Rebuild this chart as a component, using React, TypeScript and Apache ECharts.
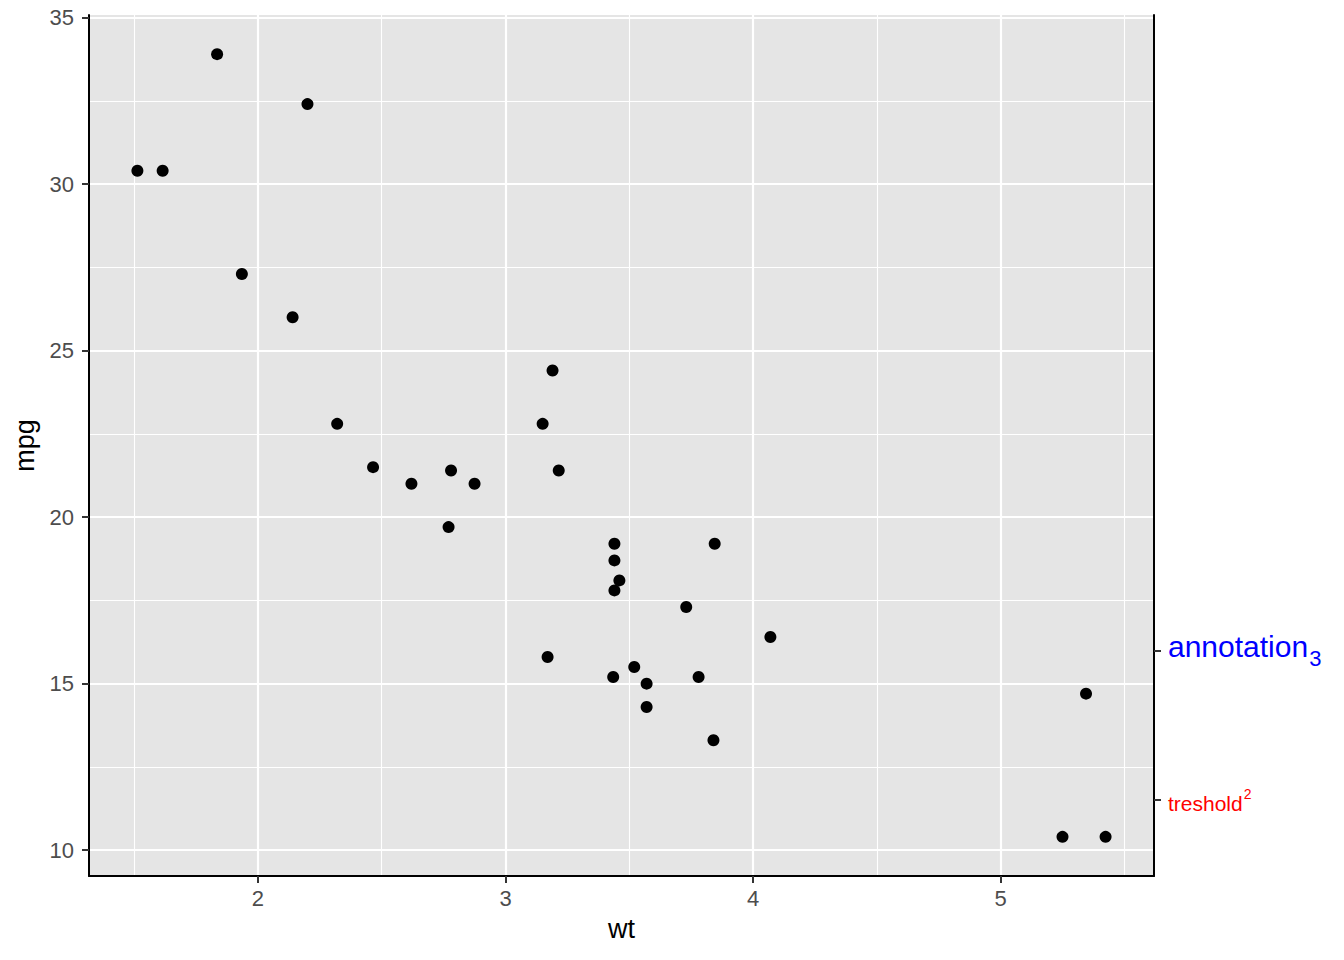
import React, { useEffect, useRef } from "react";
import * as echarts from "echarts";

// mtcars: weight (1000 lbs) and miles per gallon
const wt = [2.62, 2.875, 2.32, 3.215, 3.44, 3.46, 3.57, 3.19, 3.15, 3.44, 3.44, 4.07, 3.73, 3.78, 5.25, 5.424, 5.345, 2.2, 1.615, 1.835, 2.465, 3.52, 3.435, 3.84, 3.845, 1.935, 2.14, 1.513, 3.17, 2.77, 3.57, 2.78];
const mpg = [21.0, 21.0, 22.8, 21.4, 18.7, 18.1, 14.3, 24.4, 22.8, 19.2, 17.8, 16.4, 17.3, 15.2, 10.4, 10.4, 14.7, 32.4, 30.4, 33.9, 21.5, 15.5, 15.2, 13.3, 19.2, 27.3, 26.0, 30.4, 15.8, 19.7, 15.0, 21.4];

const xTicks = [2, 3, 4, 5];
const xMinor = [1.5, 2.5, 3.5, 4.5, 5.5];
const yTicks = [10, 15, 20, 25, 30, 35];
const yMinor = [12.5, 17.5, 22.5, 27.5, 32.5];
const rightTicks = [16, 11.5];
const rightLabels = ["annotation", "treshold"];

const xRange = [1.3175, 5.6196];
const yRange = [9.225, 35.075];

const FONT = "'Liberation Sans', Arial, Helvetica, sans-serif";

export default function App() {
  const ref = useRef<HTMLDivElement>(null);
  useEffect(() => {
    if (!ref.current) return;
    const chart = echarts.init(ref.current, undefined, { renderer: "svg" });
    const major = { color: "#FFFFFF", width: 2.2, type: "solid" as const };
    const minor = { color: "#FFFFFF", width: 1.1, type: "solid" as const };
    const markData: any[] = [
      ...xMinor.map((v) => ({ xAxis: v, lineStyle: minor })),
      ...yMinor.map((v) => ({ yAxis: v, lineStyle: minor })),
      ...xTicks.map((v) => ({ xAxis: v, lineStyle: major })),
      ...yTicks.map((v) => ({ yAxis: v, lineStyle: major })),
    ];
    const tickStyle = { show: true, length: 7, lineStyle: { color: "#333333", width: 2 } };
    chart.setOption({
      animation: false,
      textStyle: { fontFamily: FONT },
      grid: {
        left: 89,
        right: 190,
        top: 15,
        bottom: 84,
        show: true,
        backgroundColor: "#E5E5E5",
        borderWidth: 0,
      },
      xAxis: {
        type: "value",
        min: xRange[0],
        max: xRange[1],
        z: 5,
        name: "wt",
        nameLocation: "middle",
        nameGap: 39,
        nameTextStyle: { fontSize: 27, color: "#000000", fontFamily: FONT },
        axisLine: { show: true, onZero: false, lineStyle: { color: "#000000", width: 2 } },
        axisTick: { ...tickStyle, customValues: xTicks },
        axisLabel: { customValues: xTicks, fontSize: 22, color: "#4D4D4D", margin: 11, fontFamily: FONT },
        splitLine: { show: false },
      },
      yAxis: [
        {
          type: "value",
          min: yRange[0],
          max: yRange[1],
          z: 5,
          name: "mpg",
          nameLocation: "middle",
          nameGap: 50,
          nameTextStyle: { fontSize: 27, color: "#000000", fontFamily: FONT },
          axisLine: { show: true, onZero: false, lineStyle: { color: "#000000", width: 2 } },
          axisTick: { ...tickStyle, customValues: yTicks },
          axisLabel: { customValues: yTicks, fontSize: 22, color: "#4D4D4D", margin: 15, fontFamily: FONT },
          splitLine: { show: false },
        },
        {
          type: "value",
          position: "right",
          min: yRange[0],
          max: yRange[1],
          z: 5,
          axisLine: { show: true, onZero: false, lineStyle: { color: "#000000", width: 2 } },
          axisTick: { ...tickStyle, customValues: rightTicks },
          axisLabel: {
            customValues: rightTicks,
            margin: 14,
            fontFamily: FONT,
            formatter: (v: number) =>
              v === rightTicks[0]
                ? `{a|${rightLabels[0]}}{as|3}`
                : `{t|${rightLabels[1]}}{ts|2}`,
            rich: {
              a: { fontSize: 30, lineHeight: 38, color: "#0000FF", fontFamily: FONT, padding: [0, 1, 8, 0] },
              as: { fontSize: 22, lineHeight: 30, color: "#0000FF", verticalAlign: "bottom", fontFamily: FONT },
              t: { fontSize: 21, lineHeight: 26, color: "#FF0000", fontFamily: FONT, padding: [6, 1, 0, 0] },
              ts: { fontSize: 14, lineHeight: 22, color: "#FF0000", verticalAlign: "top", fontFamily: FONT },
            },
          },
          splitLine: { show: false },
        },
      ],
      series: [
        {
          type: "scatter",
          z: 3,
          symbol: "circle",
          symbolSize: 12,
          itemStyle: { color: "#000000", opacity: 1 },
          data: wt.map((x, i) => [x, mpg[i]]),
          markLine: {
            silent: true,
            z: 1,
            symbol: ["none", "none"],
            label: { show: false },
            emphasis: { disabled: true },
            animation: false,
            data: markData,
          },
        },
      ],
    });
    return () => chart.dispose();
  }, []);
  return (
    <div
      ref={ref}
      style={{ position: "fixed", left: 0, top: 0, width: 1344, height: 960, background: "#FFFFFF" }}
    />
  );
}
